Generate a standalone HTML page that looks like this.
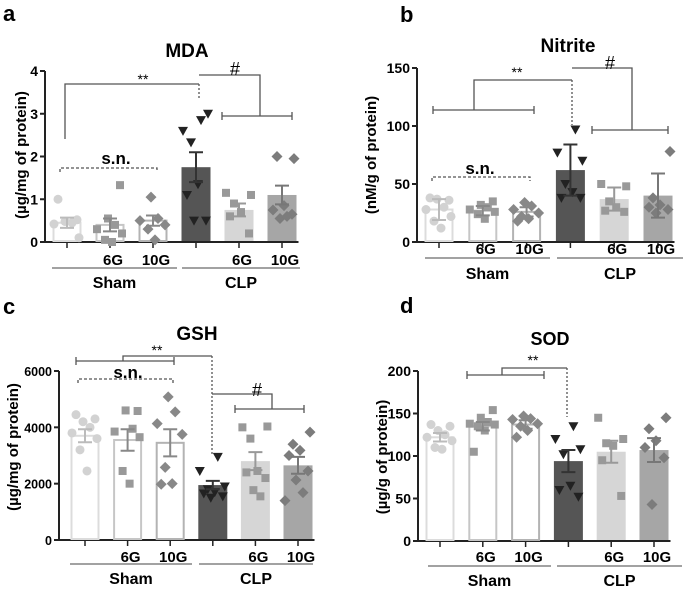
<!DOCTYPE html>
<html><head><meta charset="utf-8"><style>
html,body{margin:0;padding:0;background:#fff}
svg{display:block;font-family:"Liberation Sans",Arial,sans-serif;font-weight:bold}
</style></head><body>
<svg id="fig" width="685" height="589" viewBox="0 0 685 589" xmlns="http://www.w3.org/2000/svg">
<g>
<text x="3" y="21" font-size="22">a</text>
<text x="187" y="57" font-size="19" text-anchor="middle">MDA</text>
<text transform="translate(26,155) rotate(-90)" font-size="15" text-anchor="middle">(µg/mg of protein)</text>
<g fill="none" stroke="#555" stroke-width="1.3">
<path d="M65,139 V84 H199"/><path d="M199,84 V100" stroke-dasharray="2,2"/>
<path d="M199,75 H260 V116"/><path d="M222,116 H292 M222,112 V120 M292,112 V120"/>
<path d="M60,172 V168 H157 V172" stroke-dasharray="3,2"/>
</g>
<text x="143" y="84" font-size="14" text-anchor="middle" font-weight="normal">**</text>
<text x="235" y="75" font-size="18" text-anchor="middle" font-weight="normal">#</text>
<text x="116" y="164" font-size="17" text-anchor="middle">s.n.</text>
</g>
<g>
<text x="400" y="22" font-size="22">b</text>
<text x="568" y="52" font-size="19" text-anchor="middle">Nitrite</text>
<text transform="translate(376,155) rotate(-90)" font-size="15" text-anchor="middle">(nM/g of protein)</text>
<g fill="none" stroke="#555" stroke-width="1.3">
<path d="M433,110 H534 M433,106 V114 M534,106 V114"/><path d="M474,110 V80 H572"/>
<path d="M572,80 V125" stroke-dasharray="2,2"/>
<path d="M572,68 H632 V130"/><path d="M592,130 H668 M592,126 V134 M668,126 V134"/>
<path d="M432,181 V177 H530 V181" stroke-dasharray="3,2"/>
</g>
<text x="517" y="77" font-size="14" text-anchor="middle" font-weight="normal">**</text>
<text x="610" y="69" font-size="18" text-anchor="middle" font-weight="normal">#</text>
<text x="480" y="174" font-size="17" text-anchor="middle">s.n.</text>
</g>
<g>
<text x="3" y="314" font-size="22">c</text>
<text x="197" y="340" font-size="19" text-anchor="middle">GSH</text>
<text transform="translate(18,447) rotate(-90)" font-size="15" text-anchor="middle">(µg/mg of protein)</text>
<g fill="none" stroke="#555" stroke-width="1.3">
<path d="M76,361 H174 M76,357 V365 M174,357 V365"/><path d="M123,361 V356 H212"/>
<path d="M212,356 V455" stroke-dasharray="2,2"/>
<path d="M212,394 H272 V409"/><path d="M235,409 H304 M235,405 V413 M304,405 V413"/>
<path d="M78,383 V379 H173 V383" stroke-dasharray="3,2"/>
</g>
<text x="157" y="355" font-size="14" text-anchor="middle" font-weight="normal">**</text>
<text x="257" y="396" font-size="18" text-anchor="middle" font-weight="normal">#</text>
<text x="128" y="378" font-size="17" text-anchor="middle">s.n.</text>
</g>
<g>
<text x="400" y="313" font-size="22">d</text>
<text x="550" y="345" font-size="18" text-anchor="middle">SOD</text>
<text transform="translate(387,457) rotate(-90)" font-size="15" text-anchor="middle">(µg/g of protein)</text>
<g fill="none" stroke="#555" stroke-width="1.3">
<path d="M467,375 H544 M467,371 V379 M544,371 V379"/><path d="M502,375 V368 H567"/>
<path d="M567,368 V417" stroke-dasharray="2,2"/>
</g>
<text x="533" y="365" font-size="14" text-anchor="middle" font-weight="normal">**</text>
</g>
</svg>
<script>
// ---- data ----
const groupNames = ["Sham", "Sham 6G", "Sham 10G", "CLP", "CLP 6G", "CLP 10G"];
const mdaTicks = [0, 1, 2, 3, 4];
const mdaMeans = [0.45, 0.4, 0.5, 1.75, 0.75, 1.1];
const mdaErr = [0.12, 0.15, 0.12, 0.35, 0.15, 0.22];
const mdaPts = [[1.0,0.52,0.48,0.45,0.42,0.1],[1.33,0.55,0.4,0.3,0.2,0.05,0.0],[1.05,0.55,0.5,0.4,0.3,0.05],[2.85,2.6,3.0,2.33,1.35,1.1,0.5,0.5],[1.15,1.1,0.9,0.7,0.6,0.2],[1.95,2.0,0.85,0.75,0.65,0.55,0.6]];
const nitTicks = [0, 50, 100, 150];
const nitMeans = [28, 27, 26, 62, 37, 40];
const nitErr = [9, 4, 4, 22, 10, 19];
const nitPts = [[38,36,37,30,28,22,18,12],[35,32,30,28,26,24,20],[34,31,28,25,22,20,18],[97,77,70,50,43,38,38],[50,48,35,30,27,26],[78,38,32,30,28,25]];
const gshTicks = [0, 2000, 4000, 6000];
const gshMeans = [3700, 3550, 3450, 1950, 2800, 2650];
const gshErr = [230, 380, 480, 150, 320, 300];
const gshPts = [[4450,4300,4200,4000,3800,3600,3200,2450],[4580,4600,3950,3850,3650,2450,2000],[5080,4550,4130,3750,2580,2000,1980],[2950,2450,1900,1800,1700,1650,1550,1500],[4000,4030,3600,2450,2400,2200,1770,1550],[3830,3400,3180,3000,2450,2130,1680,1400]];
const sodTicks = [0, 50, 100, 150, 200];
const sodMeans = [122, 135, 137, 94, 105, 107];
const sodErr = [5, 5, 5, 13, 13, 14];
const sodPts = [[137,135,130,125,122,118,110,108],[154,145,140,138,137,135,130,105],[147,144,143,138,135,130,122],[135,120,108,102,65,60,52],[145,120,115,112,95,53],[145,132,118,110,98,43]];

// ---- styling ----
const NS = "http://www.w3.org/2000/svg";
const svg = document.getElementById("fig");
const barFill = ["#fff","#fff","#fff","#555","#d6d6d6","#a6a6a6"];
const barStroke = ["#dcdcdc","#c6c6c6","#b3b3b3","#555","#d6d6d6","#a6a6a6"];
const ptCol = ["#d2d2d2","#999","#888","#222","#999","#7c7c7c"];
const errCol = ["#bbb","#888","#888","#333","#999","#777"];
const shapes = ["circle","square","diamond","tri","square","diamond"];
const jitter = [-9, 10, -2, 5, -13, 12, -5, 2];

function mk(tag, attrs, parent) {
  const e = document.createElementNS(NS, tag);
  for (const k in attrs) e.setAttribute(k, attrs[k]);
  parent.appendChild(e);
  return e;
}

function drawPanel(p, ticks, means, errs, pts) {
  const g = mk("g", {}, svg);
  
  
  const ymax = ticks[ticks.length - 1];
  const y = v => p.yBot - (v / ymax) * (p.yBot - p.yTop);
  const cx = i => p.c0 + i * p.step;
  const bw = 29;
  const ax = mk("path", {d: `M${p.ax},${p.yTop} V${p.yBot} H${cx(5) + bw/2 + 2}`, fill: "none", stroke: "#222", "stroke-width": 2}, g);
  
  
  ticks.forEach(t => {
    const tk = mk("line", {x1: p.ax - 5, x2: p.ax, y1: y(t), y2: y(t), stroke: "#222", "stroke-width": 2}, g);
    
    
    const tl = mk("text", {x: p.ax - 7, y: y(t) + 5, "font-size": p.tf, "text-anchor": "end"}, g);
    tl.textContent = t;
    
    
  });
  means.forEach((m, i) => {
    const c = cx(i);
    const xt = mk("line", {x1: c, x2: c, y1: p.yBot, y2: p.yBot + 6, stroke: "#222", "stroke-width": 1.5}, g);
    
    
    const sw = i < 3 ? 2 : 0;
    const b = mk("rect", {x: c - bw/2 + sw/2, y: y(m), width: bw - sw, height: p.yBot - y(m) - 1, fill: barFill[i], stroke: barStroke[i], "stroke-width": sw}, g);
    
    
  });
  means.forEach((m, i) => {
    const c = cx(i);
    const arr = pts[i];
    arr.forEach((v, j) => {
      const px = c + jitter[(j + i) % jitter.length], py = y(v);
      let s;
      const col = ptCol[i];
      if (shapes[i] === "circle") s = mk("circle", {cx: px, cy: py, r: 4.5, fill: col}, g);
      else if (shapes[i] === "square") s = mk("rect", {x: px - 4, y: py - 4, width: 8, height: 8, fill: col}, g);
      else if (shapes[i] === "diamond") s = mk("path", {d: `M${px},${py-5.5} L${px+5.5},${py} L${px},${py+5.5} L${px-5.5},${py}Z`, fill: col}, g);
      else s = mk("path", {d: `M${px-5},${py-4} L${px+5},${py-4} L${px},${py+5}Z`, fill: col}, g);
      
      
    });
  });
  means.forEach((m, i) => {
    const c = cx(i), e = errs[i];
    const eb = mk("path", {d: `M${c},${y(m - e)} V${y(m + e)} M${c-7},${y(m + e)} H${c+7} M${c-7},${y(m - e)} H${c+7}`, stroke: errCol[i], "stroke-width": 2, fill: "none"}, g);
    
    
  });
  [1, 2, 4, 5].forEach(i => {
    const t = mk("text", {x: cx(i) + 3, y: p.lblY, "font-size": 15, "text-anchor": "middle"}, g);
    t.textContent = i % 3 === 1 ? "6G" : "10G";
    
    
  });
  [[p.s0, p.s1, "Sham"], [p.k0, p.k1, "CLP"]].forEach(([a, b2, nm]) => {
    const l = mk("line", {x1: a, x2: b2, y1: p.lineY, y2: p.lineY, stroke: "#444", "stroke-width": 1}, g);
    
    
    const t = mk("text", {x: (a + b2) / 2, y: p.grpY, "font-size": 16, "text-anchor": "middle"}, g);
    t.textContent = nm;
    
    
  });
}

drawPanel({name:"mda", tf:14, ax:45, yTop:71, yBot:242, c0:67, step:43, lblY:265, lineY:268, grpY:288, s0:52, s1:177, k0:182, k1:300}, mdaTicks, mdaMeans, mdaErr, mdaPts);
drawPanel({name:"nitrite", tf:14, ax:417, yTop:68, yBot:242, c0:439, step:43.8, lblY:254, lineY:258, grpY:279, s0:425, s1:550, k0:557, k1:683}, nitTicks, nitMeans, nitErr, nitPts);
drawPanel({name:"gsh", tf:12.5, ax:59, yTop:371, yBot:540, c0:85, step:42.6, lblY:562, lineY:564, grpY:584, s0:70, s1:192, k0:199, k1:313}, gshTicks, gshMeans, gshErr, gshPts);
drawPanel({name:"sod", tf:14, ax:418, yTop:371, yBot:541, c0:440, step:42.8, lblY:562, lineY:566, grpY:586, s0:428, s1:551, k0:557, k1:682}, sodTicks, sodMeans, sodErr, sodPts);
</script>
</body></html>
